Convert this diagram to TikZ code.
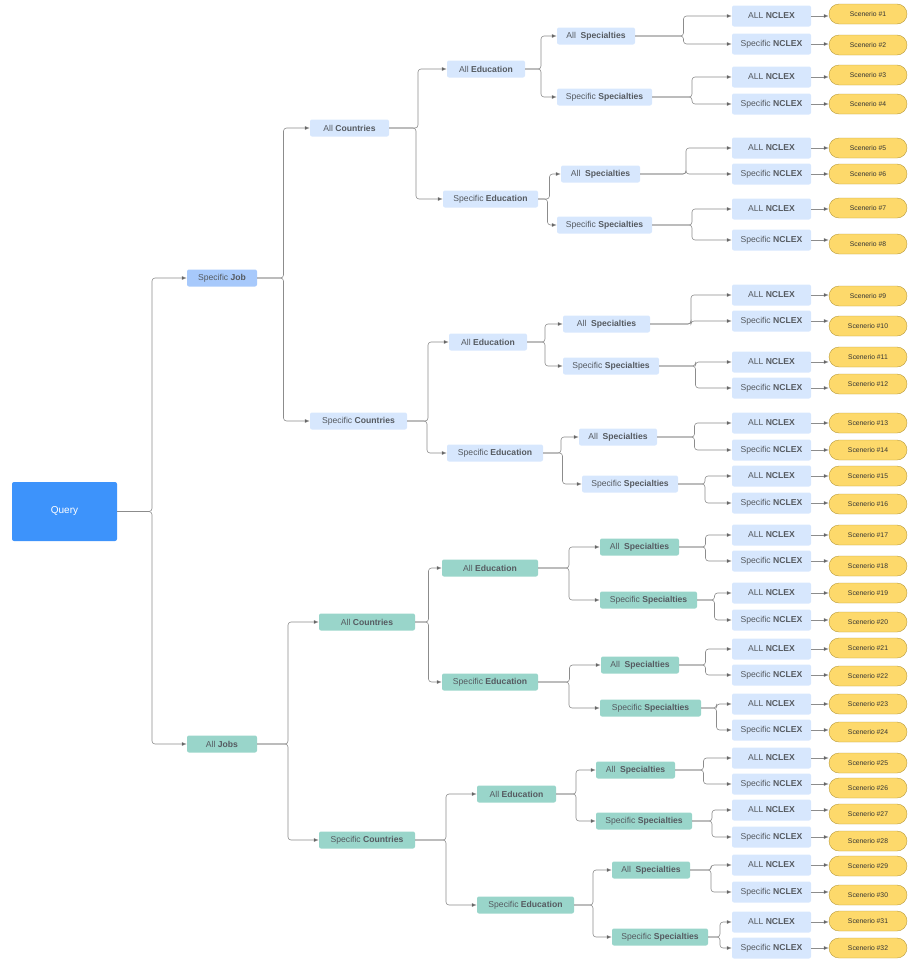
\documentclass[tikz,border=0pt]{standalone}
\usepackage{fontspec}
\setmainfont{Liberation Sans}
\usetikzlibrary{calc,arrows.meta}
\definecolor{qblue}{HTML}{3D93FB}
\definecolor{mblue}{HTML}{A7C9FB}
\definecolor{lblue}{HTML}{D7E7FD}
\definecolor{teal}{HTML}{99D5CA}
\definecolor{yel}{HTML}{FDD96B}
\definecolor{ybord}{HTML}{B89A3A}
\definecolor{txt}{HTML}{555A60}
\begin{document}
\begin{tikzpicture}[x=1pt,y=-1pt,
 box/.style={rectangle,rounded corners=2pt,draw=none,minimum height=17pt,inner sep=0pt,font=\fontsize{8.6}{10}\selectfont,text=txt},
 lb/.style={box,fill=lblue},
 tl/.style={box,fill=teal},
 nc/.style={lb,minimum height=21pt},
 scn/.style={rectangle,rounded corners=10pt,fill=yel,draw=ybord,line width=0.4pt,minimum width=78pt,minimum height=20pt,inner sep=0pt,font=\fontsize{6.8}{8}\selectfont,text=black!80},
 conn/.style={draw=black!45,line width=0.6pt,rounded corners=3pt,-{Latex[length=5pt,width=4pt,fill=black!80]}}]
\useasboundingbox (0,0) rectangle (913,964);
\newcommand\N[6]{\node[#5,minimum width=#2pt-#1pt] (#6) at ({(#1+#2)/2},#3) {#4};}
\newcommand\C[2]{\draw[conn] (#1.east) -- ($(#1.east)!0.5!(#1.east -| #2.west)$) |- (#2.west);}
\node[rectangle,rounded corners=2pt,fill=qblue,minimum width=105pt,minimum height=59pt,text=white,font=\fontsize{10}{12}\selectfont] (q) at (64.5,511.5) {Query};
\N{187}{257}{278}{Specific \textbf{Job}}{box,fill=mblue}{j1}
\N{187}{257}{744}{All \textbf{Jobs}}{tl}{j2}
\N{310}{389}{128}{All \textbf{Countries}}{lb}{c1}
\N{310}{407}{421}{Specific \textbf{Countries}}{lb}{c2}
\N{319}{415}{622}{All \textbf{Countries}}{tl}{c3}
\N{319}{415}{840}{Specific \textbf{Countries}}{tl}{c4}
\N{447}{525}{69}{All \textbf{Education}}{lb}{e1}
\N{443}{538}{199}{Specific \textbf{Education}}{lb}{e2}
\N{449}{527}{342}{All \textbf{Education}}{lb}{e3}
\N{447}{543}{453}{Specific \textbf{Education}}{lb}{e4}
\N{442}{538}{568}{All \textbf{Education}}{tl}{e5}
\N{442}{538}{682}{Specific \textbf{Education}}{tl}{e6}
\N{477}{556}{794}{All \textbf{Education}}{tl}{e7}
\N{477}{574}{905}{Specific \textbf{Education}}{tl}{e8}
\foreach \i/\a/\b/\y/\s in {1/557/635/36/lb,2/557/652/97/lb,3/561/640/174/lb,4/557/652/225/lb,5/563/650/324/lb,6/563/659/366/lb,7/579/657/437/lb,8/582/678/484/lb,9/600/679/547/tl,10/600/697/600/tl,11/601/679/665/tl,12/600/701/708/tl,13/596/675/770/tl,14/596/692/821/tl,15/612/690/870/tl,16/612/708/937/tl}{
 \pgfmathtruncatemacro\r{mod(\i,2)}
 \ifnum\r=1 \N{\a}{\b}{\y}{All \ \textbf{Specialties}}{\s}{s\i}\else\N{\a}{\b}{\y}{Specific \textbf{Specialties}}{\s}{s\i}\fi
}
\foreach \i/\y in {1/16,2/44,3/77,4/104,5/148,6/174,7/209,8/240,9/295,10/321,11/362,12/388,13/423,14/450,15/476,16/503,17/535,18/561,19/593,20/620,21/649,22/675,23/704,24/730,25/758,26/784,27/810,28/837,29/865,30/892,31/922,32/948}{
 \pgfmathtruncatemacro\r{mod(\i,2)}
 \ifnum\r=1 \N{732}{811}{\y}{ALL \textbf{NCLEX}}{nc}{n\i}\else\N{732}{811}{\y}{Specific \textbf{NCLEX}}{nc}{n\i}\fi
}
\foreach \i/\y in {1/14,2/45,3/75,4/104,5/148,6/174,7/208,8/244,9/296,10/326,11/357,12/384,13/423,14/450,15/476,16/504,17/535,18/566,19/593,20/622,21/648,22/676,23/704,24/732,25/763,26/788,27/814,28/841,29/866,30/895,31/921,32/948}{
 \node[scn] (z\i) at (868,\y) {Scenerio \#\i};
}
\C{q}{j1}\C{q}{j2}
\C{j1}{c1}\C{j1}{c2}\C{j2}{c3}\C{j2}{c4}
\foreach \i in {1,...,4}{\pgfmathtruncatemacro\a{2*\i-1}\pgfmathtruncatemacro\b{2*\i}\C{c\i}{e\a}\C{c\i}{e\b}}
\foreach \i in {1,...,8}{\pgfmathtruncatemacro\a{2*\i-1}\pgfmathtruncatemacro\b{2*\i}\C{e\i}{s\a}\C{e\i}{s\b}}
\foreach \i in {1,...,16}{\pgfmathtruncatemacro\a{2*\i-1}\pgfmathtruncatemacro\b{2*\i}\C{s\i}{n\a}\C{s\i}{n\b}}
\foreach \i in {1,...,32}{\draw[conn] (n\i.east) -- (n\i.east -| z\i.west);}
\end{tikzpicture}
\end{document}
